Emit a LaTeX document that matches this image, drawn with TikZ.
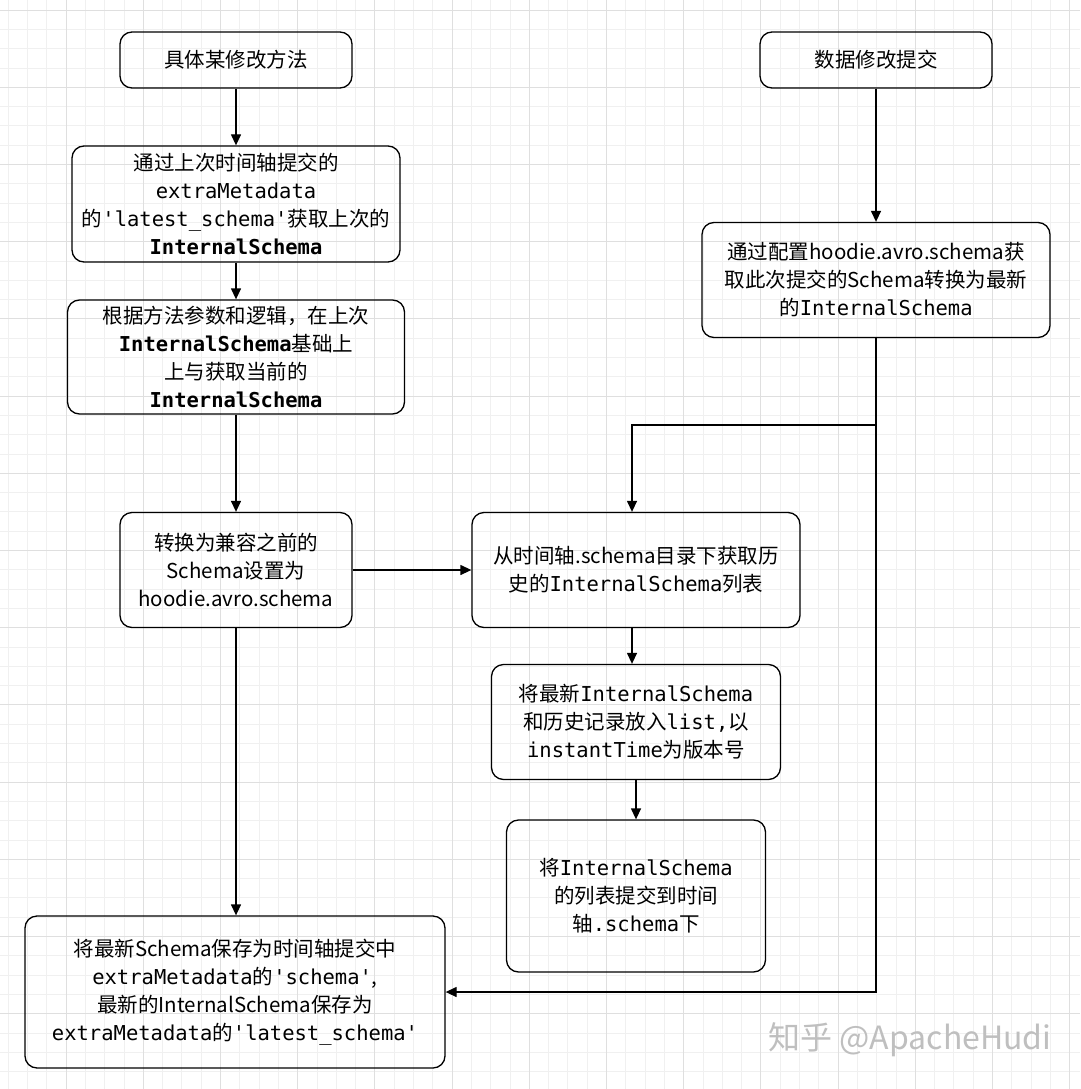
\documentclass[tikz,border=0pt]{standalone}
\usepackage{fontspec}
\setmainfont{Noto Sans CJK SC}
\newfontfamily\mono{DejaVu Sans Mono}
\usetikzlibrary{arrows.meta}
\begin{document}
\begin{tikzpicture}[x=1pt,y=-1pt,
  box/.style={draw,line width=1.3pt,rounded corners=12pt,align=center,inner sep=0pt,font=\fontsize{20.5}{28}\selectfont},
  arr/.style={line width=1.3pt,-{Triangle[length=11pt,width=10pt]}}]
\fill[white] (0,0) rectangle (1080,1089);
\useasboundingbox (0,0) rectangle (1080,1089);
\begin{scope}
\clip (0,0) rectangle (1080,1089);
\foreach \i in {0,...,57}{
  \draw[gray!12,line width=0.7pt] (-11.2+\i*19.3,0) -- (-11.2+\i*19.3,1089);
  \draw[gray!12,line width=0.7pt] (0,-9.3+\i*19.3) -- (1080,-9.3+\i*19.3);}
\foreach \i in {0,...,14}{
  \draw[gray!25,line width=0.8pt] (-11.2+\i*77.2,0) -- (-11.2+\i*77.2,1089);
  \draw[gray!25,line width=0.8pt] (0,10+\i*77.2) -- (1080,10+\i*77.2);}
\end{scope}
\node[box,minimum width=232pt,minimum height=56pt] (A) at (236,60) {具体某修改方法};
\node[box,minimum width=232pt,minimum height=56pt] (B) at (876,60) {数据修改提交};
\node[box,minimum width=328pt,minimum height=116pt] (C) at (236,204) {通过上次时间轴提交的\\{\mono extraMetadata}\\的{\mono 'latest\_schema'}获取上次的\\{\mono\bfseries InternalSchema}};
\node[box,minimum width=337pt,minimum height=114pt] (D) at (236,357) {根据方法参数和逻辑，在上次\\{\mono\bfseries InternalSchema}基础上\\上与获取当前的\\{\mono\bfseries InternalSchema}};
\node[box,minimum width=232pt,minimum height=115pt] (E) at (236,570) {转换为兼容之前的\\Schema设置为\\hoodie.avro.schema};
\node[box,minimum width=348pt,minimum height=115pt] (F) at (876,280) {通过配置hoodie.avro.schema获\\取此次提交的Schema转换为最新\\的{\mono InternalSchema}};
\node[box,minimum width=328pt,minimum height=115pt] (G) at (636,570) {从时间轴.schema目录下获取历\\史的{\mono InternalSchema}列表};
\node[box,minimum width=289pt,minimum height=115pt] (H) at (636,722) {将最新{\mono InternalSchema}\\和历史记录放入{\mono list,}以\\{\mono instantTime}为版本号};
\node[box,minimum width=259pt,minimum height=152pt] (I) at (636,896) {将{\mono InternalSchema}\\的列表提交到时间\\轴{\mono .schema}下};
\node[box,minimum width=420pt,minimum height=152pt] (J) at (235,992) {将最新Schema保存为时间轴提交中\\{\mono extraMetadata}的{\mono 'schema'},\\最新的InternalSchema保存为\\{\mono extraMetadata}的{\mono 'latest\_schema'}};
\coordinate (f1) at (876,425);
\coordinate (f2) at (632,425);
\coordinate (f3) at (876,992);
\draw[arr] (A) -- (C);
\draw[arr] (C) -- (D);
\draw[arr] (D) -- (E);
\draw[arr] (E) -- (J.north -| E);
\draw[arr] (E) -- (G);
\draw[arr] (B) -- (F);
\draw[arr] (F.south) -- (f1) -- (f2) -- (f2 |- G.north);
\draw[arr] (f1) -- (f3) -- (J.east |- f3);
\draw[arr] (G.south -| f2) -- (H.north -| f2);
\draw[arr] (H) -- (I);
\node[text=gray!50,font=\fontsize{32}{36}\selectfont] (W) at (910,1040) {知乎 @ApacheHudi};
\end{tikzpicture}
\end{document}
